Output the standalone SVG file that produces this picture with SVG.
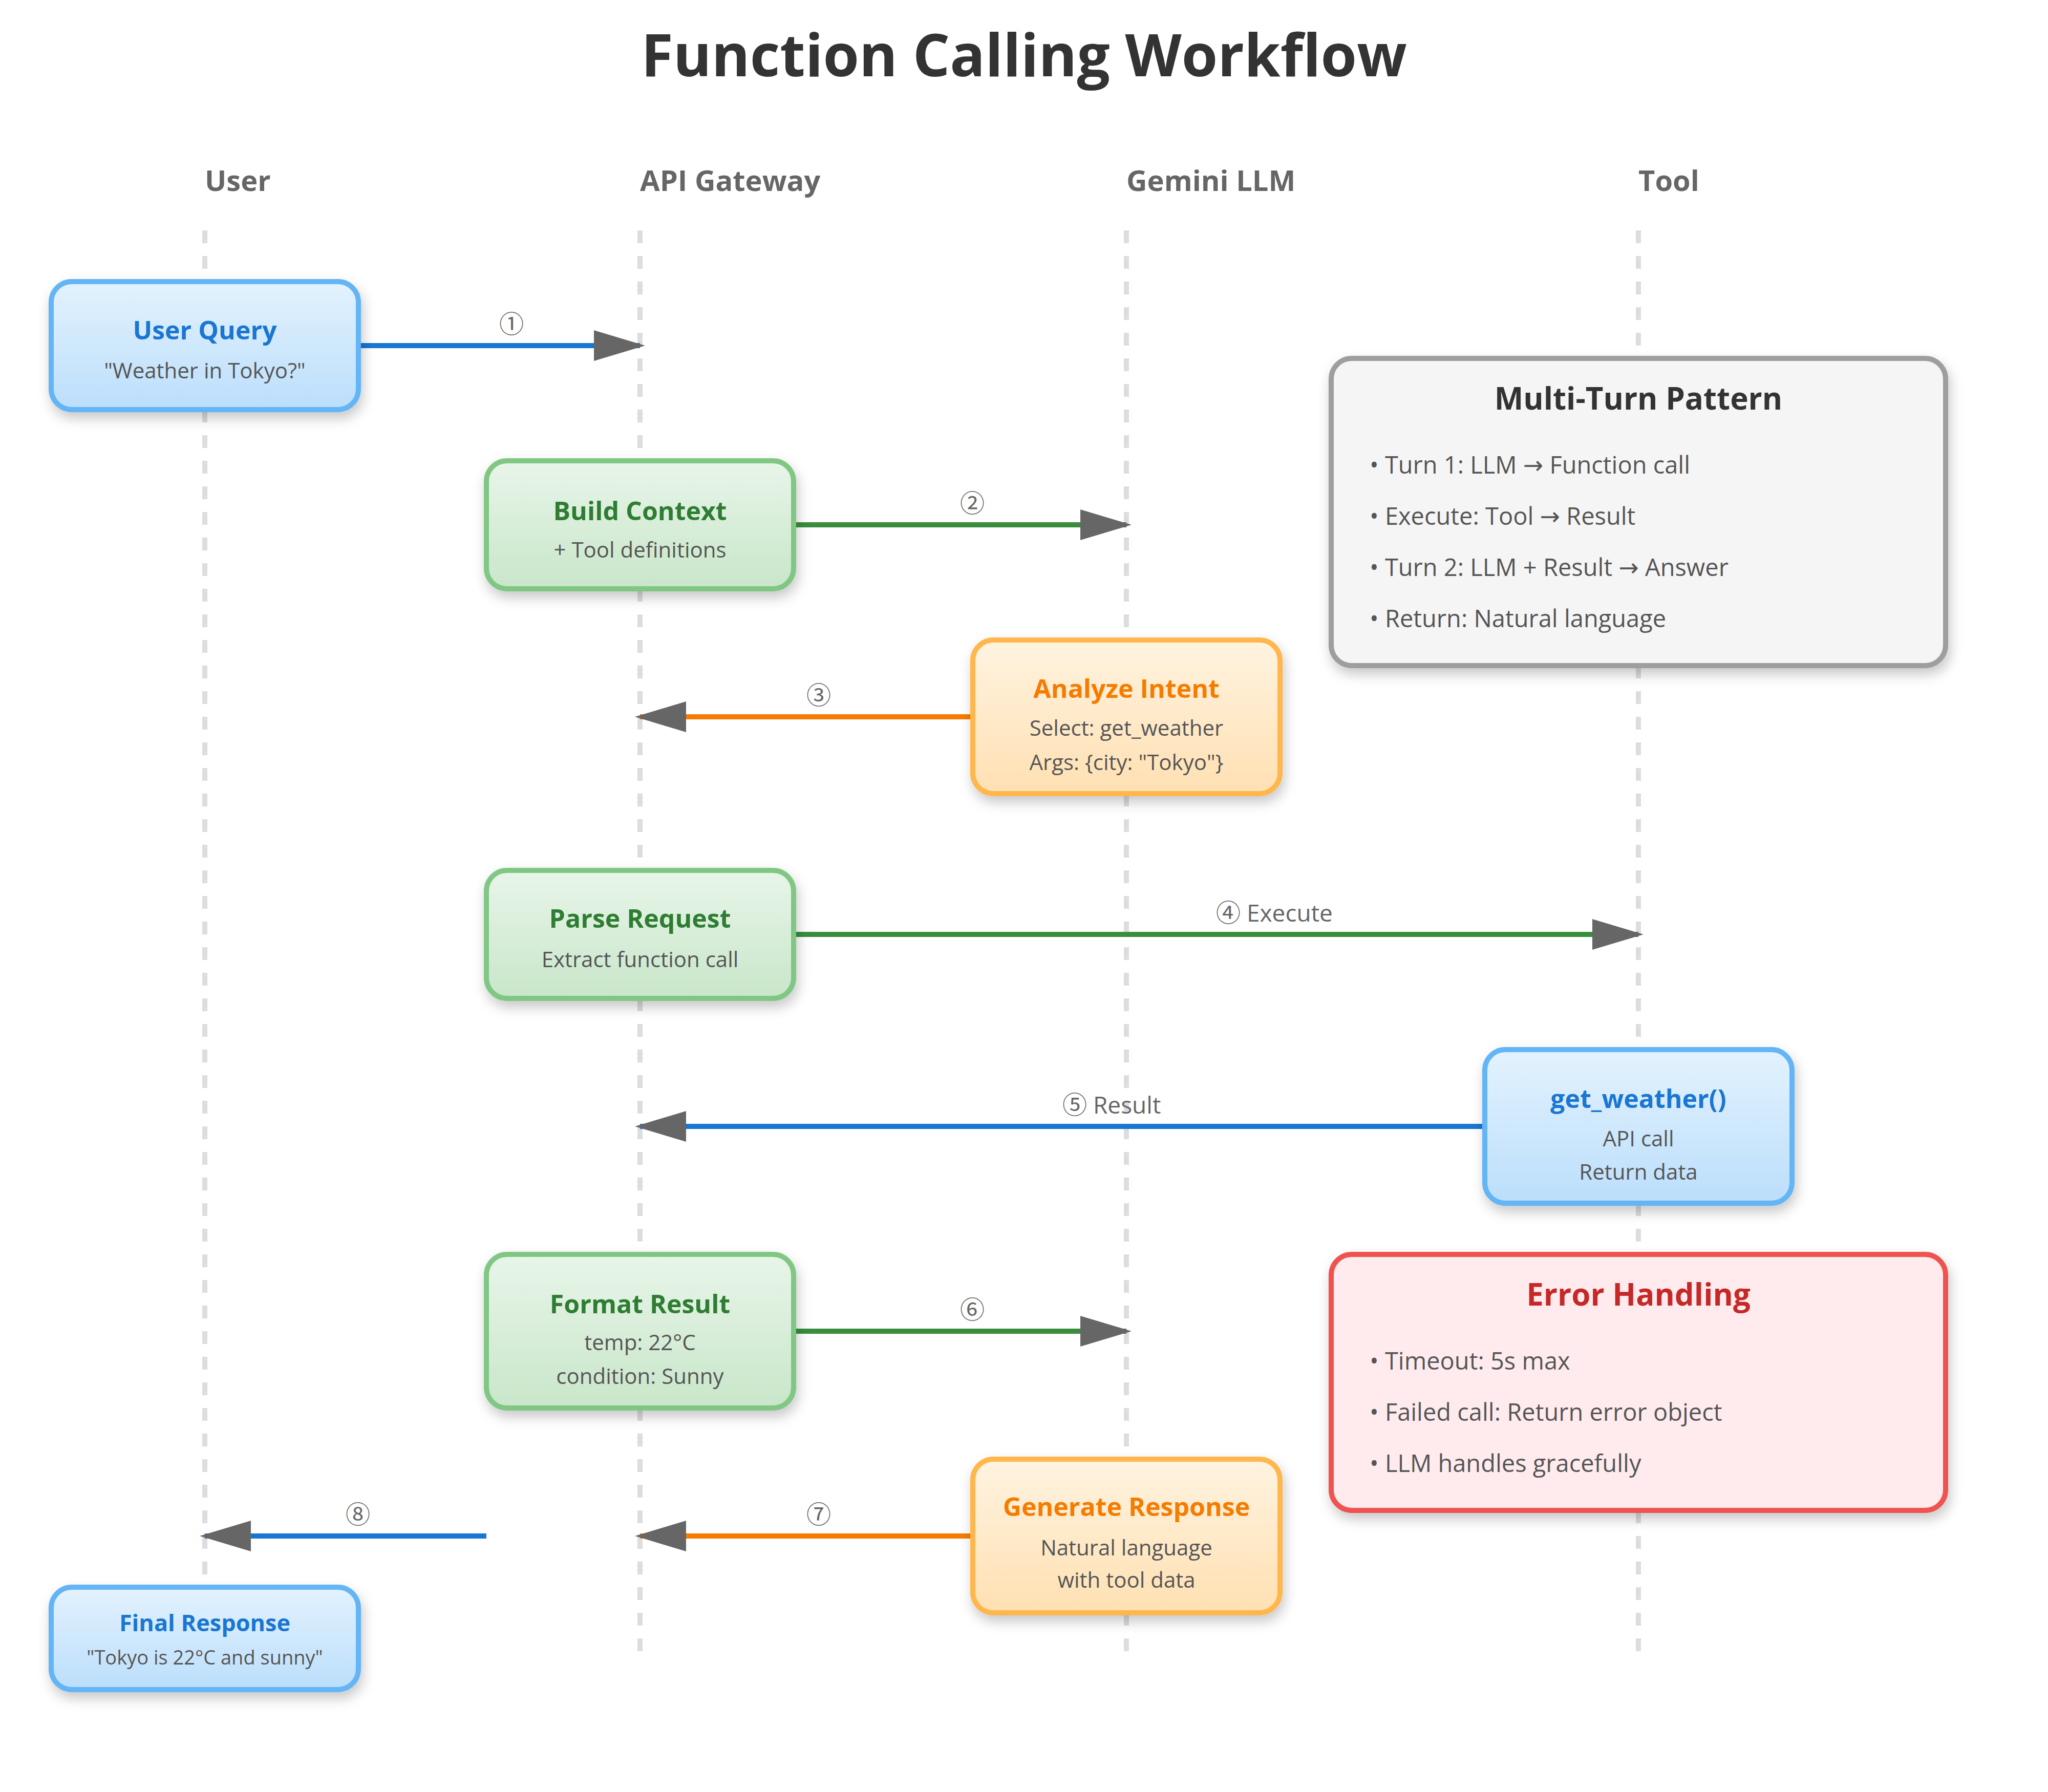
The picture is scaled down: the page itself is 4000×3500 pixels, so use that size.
<svg xmlns="http://www.w3.org/2000/svg" width="4000" height="3500" viewBox="0 0 4000 3500">
  <defs>
    <linearGradient id="gBlue" x1="0" y1="0" x2="0" y2="1"><stop offset="0" stop-color="#E3F2FD"/><stop offset="1" stop-color="#BBDEFB"/></linearGradient>
    <linearGradient id="gGreen" x1="0" y1="0" x2="0" y2="1"><stop offset="0" stop-color="#E8F5E9"/><stop offset="1" stop-color="#C8E6C9"/></linearGradient>
    <linearGradient id="gOrange" x1="0" y1="0" x2="0" y2="1"><stop offset="0" stop-color="#FFF3E0"/><stop offset="1" stop-color="#FFE0B2"/></linearGradient>
    <filter id="shadow" x="-20%" y="-20%" width="140%" height="150%">
      <feDropShadow dx="4" dy="12" stdDeviation="12" flood-color="#000" flood-opacity="0.22"/>
    </filter>
    <marker id="arrow" viewBox="0 0 10 6" markerWidth="10" markerHeight="6" refX="9" refY="3" orient="auto" markerUnits="strokeWidth">
      <path d="M0,0 L10,3 L0,6 z" fill="#666666"/>
    </marker>
  </defs>
  <style>
    text { font-family: "Open Sans", "Noto Sans", "DejaVu Sans", sans-serif; }
    .title { font-size: 114px; font-weight: 700; fill: #333333; }
    .lane { font-size: 56px; font-weight: 700; fill: #666666; }
    .life { stroke: #DDDDDD; stroke-width: 10; stroke-dasharray: 25 25; fill: none; }
    .box { stroke-width: 10; filter: url(#shadow); }
    .blue { fill: url(#gBlue); stroke: #64B5F6; }
    .green { fill: url(#gGreen); stroke: #81C784; }
    .orange { fill: url(#gOrange); stroke: #FFB74D; }
    .gray { fill: #F5F5F5; stroke: #9E9E9E; }
    .red { fill: #FFEBEE; stroke: #EF5350; }
    .nt { font-size: 50px; font-weight: 700; text-anchor: middle; }
    .ns { font-size: 42px; fill: #555555; text-anchor: middle; }
    .tb { fill: #1976D2; }
    .tg { fill: #2E7D32; }
    .to { fill: #F57C00; }
    .ptitle { font-size: 60px; font-weight: 700; text-anchor: middle; }
    .bul { font-size: 47px; fill: #555555; }
    .conn { stroke-width: 10; fill: none; marker-end: url(#arrow); }
    .cb { stroke: #1976D2; }
    .cg { stroke: #388E3C; }
    .co { stroke: #F57C00; }
    .lbl { font-size: 46px; fill: #666666; }
    .num { font-family: "Noto Sans CJK JP", "Noto Sans CJK SC", "DejaVu Sans", sans-serif; font-size: 48px; }
  </style>
  <rect x="0" y="0" width="4000" height="3500" fill="#FFFFFF"/>
  <text class="title" x="2000" y="149" text-anchor="middle">Function Calling Workflow</text>

  <g id="lanes">
    <text class="lane" x="400" y="373">User</text>
    <text class="lane" x="1250" y="373">API Gateway</text>
    <text class="lane" x="2200" y="373">Gemini LLM</text>
    <text class="lane" x="3200" y="373">Tool</text>
    <line class="life" x1="400" y1="450" x2="400" y2="3225"/>
    <line class="life" x1="1250" y1="450" x2="1250" y2="3225"/>
    <line class="life" x1="2200" y1="450" x2="2200" y2="3225"/>
    <line class="life" x1="3200" y1="450" x2="3200" y2="3225"/>
  </g>

  <g id="connectors">
    <line class="conn cb" x1="700" y1="675" x2="1250" y2="675"/>
    <text class="lbl" x="975" y="650"><tspan class="num">①</tspan></text>
    <line class="conn cg" x1="1550" y1="1025" x2="2200" y2="1025"/>
    <text class="lbl" x="1875" y="1000"><tspan class="num">②</tspan></text>
    <line class="conn co" x1="1900" y1="1400" x2="1250" y2="1400"/>
    <text class="lbl" x="1575" y="1375"><tspan class="num">③</tspan></text>
    <line class="conn cg" x1="1550" y1="1825" x2="3200" y2="1825"/>
    <text class="lbl" x="2375" y="1800"><tspan class="num">④</tspan> Execute</text>
    <line class="conn cb" x1="2900" y1="2200" x2="1250" y2="2200"/>
    <text class="lbl" x="2075" y="2175"><tspan class="num">⑤</tspan> Result</text>
    <line class="conn cg" x1="1550" y1="2600" x2="2200" y2="2600"/>
    <text class="lbl" x="1875" y="2575"><tspan class="num">⑥</tspan></text>
    <line class="conn co" x1="1900" y1="3000" x2="1250" y2="3000"/>
    <text class="lbl" x="1575" y="2975"><tspan class="num">⑦</tspan></text>
    <line class="conn cb" x1="950" y1="3000" x2="400" y2="3000"/>
    <text class="lbl" x="675" y="2975"><tspan class="num">⑧</tspan></text>
  </g>

  <g id="user-query">
    <rect class="box blue" x="100" y="550" width="600" height="250" rx="40"/>
    <text class="nt tb" x="400" y="663">User Query</text>
    <text class="ns" x="400" y="739">"Weather in Tokyo?"</text>
  </g>

  <g id="build-context">
    <rect class="box green" x="950" y="900" width="600" height="250" rx="40"/>
    <text class="nt tg" x="1250" y="1016">Build Context</text>
    <text class="ns" x="1250" y="1089">+ Tool definitions</text>
  </g>

  <g id="analyze-intent">
    <rect class="box orange" x="1900" y="1250" width="600" height="300" rx="40"/>
    <text class="nt to" x="2200" y="1363">Analyze Intent</text>
    <text class="ns" x="2200" y="1437">Select: get_weather</text>
    <text class="ns" x="2200" y="1504">Args: {city: "Tokyo"}</text>
  </g>

  <g id="parse-request">
    <rect class="box green" x="950" y="1700" width="600" height="250" rx="40"/>
    <text class="nt tg" x="1250" y="1812">Parse Request</text>
    <text class="ns" x="1250" y="1889">Extract function call</text>
  </g>

  <g id="get-weather">
    <rect class="box blue" x="2900" y="2050" width="600" height="300" rx="40"/>
    <text class="nt tb" x="3200" y="2164">get_weather()</text>
    <text class="ns" x="3200" y="2239">API call</text>
    <text class="ns" x="3200" y="2304">Return data</text>
  </g>

  <g id="format-result">
    <rect class="box green" x="950" y="2450" width="600" height="300" rx="40"/>
    <text class="nt tg" x="1250" y="2565">Format Result</text>
    <text class="ns" x="1250" y="2637">temp: 22°C</text>
    <text class="ns" x="1250" y="2703">condition: Sunny</text>
  </g>

  <g id="generate-response">
    <rect class="box orange" x="1900" y="2850" width="600" height="300" rx="40"/>
    <text class="nt to" x="2200" y="2961">Generate Response</text>
    <text class="ns" x="2200" y="3038">Natural language</text>
    <text class="ns" x="2200" y="3101">with tool data</text>
  </g>

  <g id="final-response">
    <rect class="box blue" x="100" y="3100" width="600" height="200" rx="40"/>
    <text class="nt tb" x="400" y="3186" style="font-size:45px">Final Response</text>
    <text class="ns" x="400" y="3251" style="font-size:38px">"Tokyo is 22°C and sunny"</text>
  </g>

  <g id="multi-turn-pattern">
    <rect class="box gray" x="2600" y="700" width="1200" height="600" rx="40"/>
    <text class="ptitle" x="3200" y="800" fill="#333333">Multi-Turn Pattern</text>
    <text class="bul" x="2675" y="925">• Turn 1: LLM → Function call</text>
    <text class="bul" x="2675" y="1025">• Execute: Tool → Result</text>
    <text class="bul" x="2675" y="1125">• Turn 2: LLM + Result → Answer</text>
    <text class="bul" x="2675" y="1225">• Return: Natural language</text>
  </g>

  <g id="error-handling">
    <rect class="box red" x="2600" y="2450" width="1200" height="500" rx="40"/>
    <text class="ptitle" x="3200" y="2550" fill="#C62828">Error Handling</text>
    <text class="bul" x="2675" y="2675">• Timeout: 5s max</text>
    <text class="bul" x="2675" y="2775">• Failed call: Return error object</text>
    <text class="bul" x="2675" y="2875">• LLM handles gracefully</text>
  </g>
</svg>
